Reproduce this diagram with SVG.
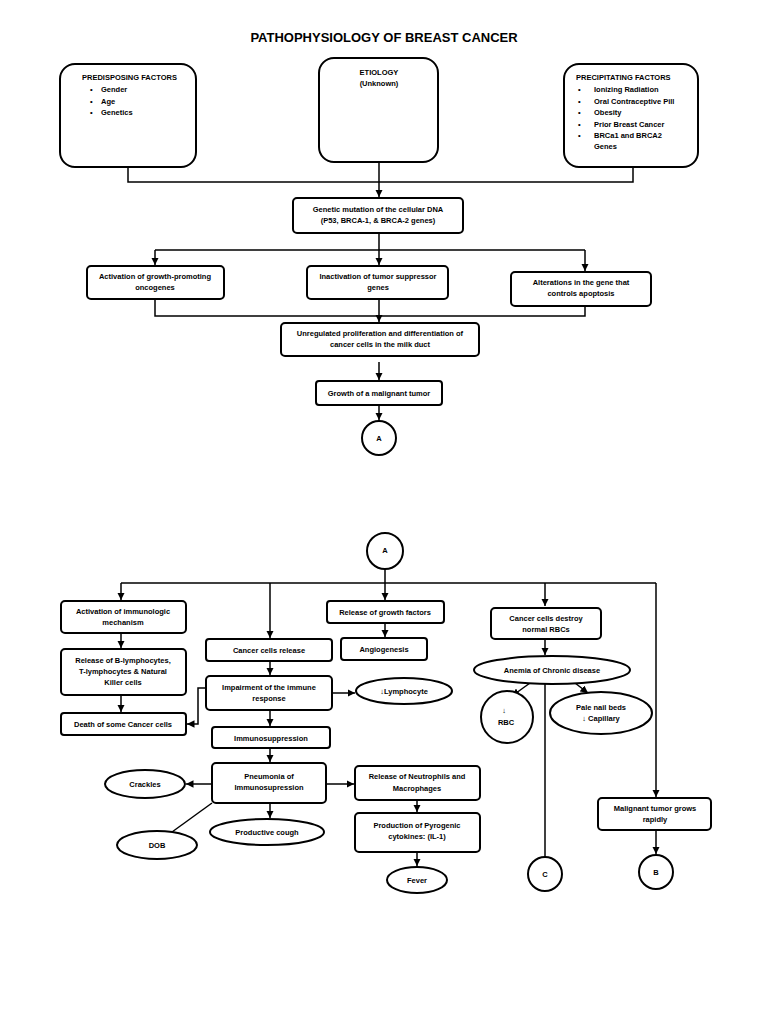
<svg xmlns="http://www.w3.org/2000/svg" width="768" height="1024" viewBox="0 0 768 1024">
<defs>
<marker id="ah" viewBox="0 0 10 10" refX="10" refY="5" markerWidth="5" markerHeight="5" orient="auto"><path d="M0,0 L10,5 L0,10 z" fill="#000"/></marker>
</defs>
<style>
.b{fill:#fff;stroke:#000;stroke-width:2}
.l{fill:none;stroke:#000;stroke-width:1.5}
.a{fill:none;stroke:#000;stroke-width:1.5;marker-end:url(#ah)}
text{font-family:"Liberation Sans",Arial,sans-serif;font-size:7.5px;font-weight:bold;fill:#000}
.m{text-anchor:middle}
.t{font-size:13px}
</style>
<rect width="768" height="1024" fill="#fff"/>
<text class="m t" x="384" y="42">PATHOPHYSIOLOGY OF BREAST CANCER</text>
<g id="connectors">
<path class="l" d="M128,167 V182 H633 V167"/>
<path class="a" d="M379,162 V197"/>
<path class="l" d="M379,233 V250 M155,250 H585"/>
<path class="a" d="M155,250 V265"/><path class="a" d="M379,250 V265"/><path class="a" d="M585,250 V271"/>
<path class="l" d="M155,299 V316 H585 V306"/>
<path class="a" d="M379,299 V322"/>
<path class="a" d="M379,362 V380"/>
<path class="a" d="M379,405 V420"/>
<path class="l" d="M385,569 V583 M121,583 H656"/>
<path class="a" d="M121,583 V600"/><path class="a" d="M270,583 V638"/><path class="a" d="M385,583 V600"/><path class="a" d="M545,583 V606"/><path class="a" d="M656,583 V797"/>
<path class="a" d="M121,633 V648"/><path class="a" d="M121,695 V712"/>
<path class="a" d="M385,623 V637"/>
<path class="a" d="M270,661 V675"/>
<path class="a" d="M332,693 H355"/>
<path class="a" d="M206,688 H198 V724 H187"/>
<path class="a" d="M270,710 V726"/>
<path class="a" d="M270,748 V762"/>
<path class="a" d="M212,784 H186"/>
<path class="l" d="M212,803 L172,832"/>
<path class="a" d="M270,803 V818"/>
<path class="a" d="M326,784 H354"/>
<path class="a" d="M417,800 V812"/>
<path class="a" d="M417,852 V866"/>
<path class="a" d="M545,639 V655"/>
<path class="a" d="M530,683 L512,696"/>
<path class="a" d="M575,683 L588,693"/>
<path class="l" d="M545,684 V857"/>
<path class="a" d="M656,830 V854"/>
</g>
<g id="predisposing"><rect class="b" x="60" y="64" width="136" height="103" rx="15"/>
<text x="82" y="80">PREDISPOSING FACTORS</text>
<text x="90" y="92">•</text><text x="101" y="92">Gender</text>
<text x="90" y="104">•</text><text x="101" y="104">Age</text>
<text x="90" y="115">•</text><text x="101" y="115">Genetics</text></g>
<g id="etiology"><rect class="b" x="319" y="58" width="119" height="104" rx="15"/>
<text class="m" x="379" y="75">ETIOLOGY</text><text class="m" x="379" y="86">(Unknown)</text></g>
<g id="precipitating"><rect class="b" x="564" y="64" width="134" height="103" rx="15"/>
<text x="576" y="80">PRECIPITATING FACTORS</text>
<text x="578" y="92">•</text><text x="594" y="92">Ionizing Radiation</text>
<text x="578" y="104">•</text><text x="594" y="104">Oral Contraceptive Pill</text>
<text x="578" y="115">•</text><text x="594" y="115">Obesity</text>
<text x="578" y="127">•</text><text x="594" y="127">Prior Breast Cancer</text>
<text x="578" y="138">•</text><text x="594" y="138">BRCa1 and BRCA2</text>
<text x="594" y="149">Genes</text></g>
<g id="genetic"><rect class="b" x="293" y="198" width="170" height="35" rx="4"/>
<text class="m" x="378" y="212">Genetic mutation of the cellular DNA</text><text class="m" x="378" y="223">(P53, BRCA-1, &amp; BRCA-2 genes)</text></g>
<g id="activation"><rect class="b" x="87" y="266" width="137" height="33" rx="4"/>
<text class="m" x="155" y="279">Activation of growth-promoting</text><text class="m" x="155" y="290">oncogenes</text></g>
<g id="inactivation"><rect class="b" x="307" y="266" width="141" height="33" rx="4"/>
<text class="m" x="378" y="279">Inactivation of tumor suppressor</text><text class="m" x="378" y="290">genes</text></g>
<g id="alterations"><rect class="b" x="511" y="272" width="140" height="34" rx="4"/>
<text class="m" x="581" y="285">Alterations in the gene that</text><text class="m" x="581" y="296">controls apoptosis</text></g>
<g id="unregulated"><rect class="b" x="281" y="323" width="198" height="33" rx="4"/>
<text class="m" x="380" y="336">Unregulated proliferation and differentiation of</text><text class="m" x="380" y="347">cancer cells in the milk duct</text></g>
<g id="growth"><rect class="b" x="316" y="381" width="126" height="24" rx="3"/>
<text class="m" x="379" y="396">Growth of a malignant tumor</text></g>
<g id="A1"><circle class="b" cx="379" cy="438" r="17"/><text class="m" x="379" y="441">A</text></g>
<g id="A2"><circle class="b" cx="385" cy="551" r="18"/><text class="m" x="385" y="553">A</text></g>
<g id="immunologic"><rect class="b" x="61" y="601" width="125" height="32" rx="4"/>
<text class="m" x="123" y="614">Activation of immunologic</text><text class="m" x="123" y="625">mechanism</text></g>
<g id="blymph"><rect class="b" x="61" y="649" width="125" height="46" rx="4"/>
<text class="m" x="123" y="663">Release of B-lymphocytes,</text><text class="m" x="123" y="674">T-lymphocytes &amp; Natural</text><text class="m" x="123" y="685">Killer cells</text></g>
<g id="death"><rect class="b" x="61" y="713" width="125" height="22" rx="3"/>
<text class="m" x="123" y="727">Death of some Cancer cells</text></g>
<g id="growthfactors"><rect class="b" x="327" y="601" width="117" height="22" rx="3"/>
<text class="m" x="385" y="615">Release of growth factors</text></g>
<g id="angio"><rect class="b" x="341" y="638" width="86" height="22" rx="3"/>
<text class="m" x="384" y="652">Angiogenesis</text></g>
<g id="ccrelease"><rect class="b" x="206" y="639" width="126" height="22" rx="3"/>
<text class="m" x="269" y="653">Cancer cells release</text></g>
<g id="impairment"><rect class="b" x="206" y="676" width="126" height="34" rx="4"/>
<text class="m" x="269" y="690">Impairment of the immune</text><text class="m" x="269" y="701">response</text></g>
<g id="lymphocyte"><ellipse class="b" cx="404" cy="691" rx="48" ry="13"/><text class="m" x="404" y="694">↓Lymphocyte</text></g>
<g id="immunosupp"><rect class="b" x="212" y="727" width="118" height="21" rx="3"/>
<text class="m" x="271" y="741">Immunosuppression</text></g>
<g id="pneumonia"><rect class="b" x="212" y="763" width="114" height="40" rx="4"/>
<text class="m" x="269" y="779">Pneumonia of</text><text class="m" x="269" y="790">Immunosupression</text></g>
<g id="crackles"><ellipse class="b" cx="145" cy="784" rx="40" ry="14"/><text class="m" x="145" y="787">Crackles</text></g>
<g id="dob"><ellipse class="b" cx="157" cy="845" rx="40" ry="14"/><text class="m" x="157" y="848">DOB</text></g>
<g id="cough"><ellipse class="b" cx="267" cy="832" rx="57" ry="13"/><text class="m" x="267" y="835">Productive cough</text></g>
<g id="neutrophils"><rect class="b" x="355" y="766" width="125" height="34" rx="4"/>
<text class="m" x="417" y="779">Release of Neutrophils and</text><text class="m" x="417" y="791">Macrophages</text></g>
<g id="pyrogenic"><rect class="b" x="355" y="813" width="125" height="39" rx="4"/>
<text class="m" x="417" y="828">Production of Pyrogenic</text><text class="m" x="417" y="839">cytokines: (IL-1)</text></g>
<g id="fever"><ellipse class="b" cx="417" cy="880" rx="30" ry="13"/><text class="m" x="417" y="883">Fever</text></g>
<g id="destroy"><rect class="b" x="491" y="608" width="110" height="31" rx="4"/>
<text class="m" x="546" y="621">Cancer cells destroy</text><text class="m" x="546" y="632">normal RBCs</text></g>
<g id="anemia"><ellipse class="b" cx="552" cy="670" rx="78" ry="14"/><text class="m" x="552" y="673">Anemia of Chronic disease</text></g>
<g id="rbc"><circle class="b" cx="507" cy="717" r="26"/><text class="m" x="504" y="713">↓</text><text class="m" x="506" y="725">RBC</text></g>
<g id="pale"><ellipse class="b" cx="601" cy="713" rx="51" ry="21"/><text class="m" x="601" y="710">Pale nail beds</text><text class="m" x="601" y="721">↓ Capillary</text></g>
<g id="C"><circle class="b" cx="545" cy="874" r="17"/><text class="m" x="545" y="877">C</text></g>
<g id="malignant"><rect class="b" x="598" y="798" width="113" height="32" rx="4"/>
<text class="m" x="655" y="811">Malignant tumor grows</text><text class="m" x="655" y="822">rapidly</text></g>
<g id="B"><circle class="b" cx="656" cy="872" r="17"/><text class="m" x="656" y="875">B</text></g>
</svg>
